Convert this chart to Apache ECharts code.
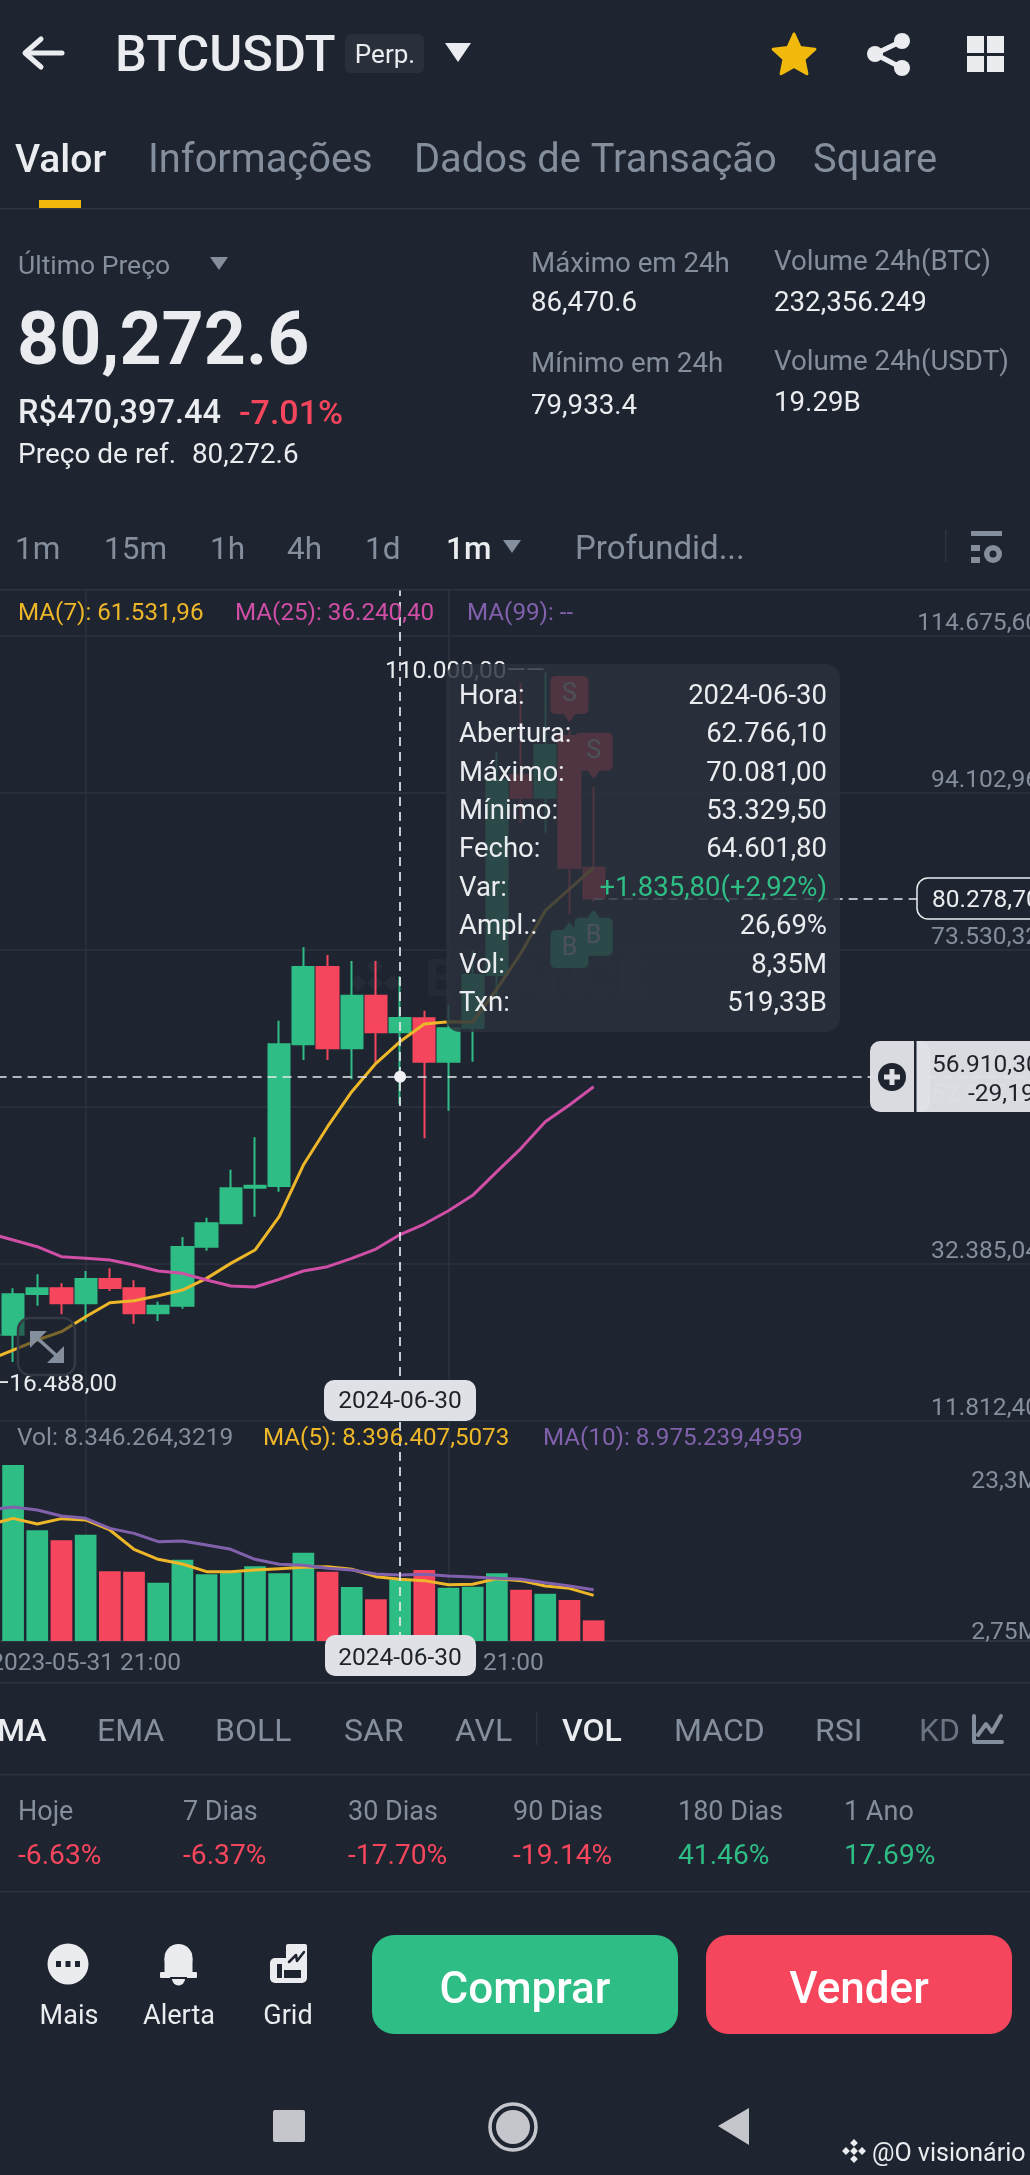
<!DOCTYPE html>
<html>
<head>
<meta charset="utf-8">
<title>BTCUSDT</title>
<style>
  html, body { margin: 0; padding: 0; background: #1e2530; }
  #chart { width: 1030px; height: 2175px; }
</style>
</head>
<body>
<div id="chart"></div>
<script src="https://cdn.jsdelivr.net/npm/echarts@6/dist/echarts.min.js"></script>
<script>
// monthly candles, the first two sit off the left edge of the screen
const categories = [
  '2022-12-31 21:00', '2023-01-31 21:00', '2023-02-28 21:00', '2023-03-31 21:00', '2023-04-30 21:00',
  '2023-05-31 21:00', '2023-06-30 21:00', '2023-07-31 21:00', '2023-08-31 21:00', '2023-09-30 21:00',
  '2023-10-31 21:00', '2023-11-30 21:00', '2023-12-31 21:00', '2024-01-31 21:00', '2024-02-29 21:00',
  '2024-03-31 21:00', '2024-04-30 21:00', '2024-05-31 21:00', '2024-06-30 21:00', '2024-07-31 21:00',
  '2024-08-31 21:00', '2024-09-30 21:00', '2024-10-31 21:00', '2024-11-30 21:00', '2024-12-31 21:00',
  '2025-01-31 21:00', '2025-02-28 21:00', '2025-03-31 21:00', '2025-04-30 21:00', '2025-05-31 21:00',
  '2025-06-30 21:00', '2025-07-31 21:00', '2025-08-31 21:00', '2025-09-30 21:00', '2025-10-31 21:00',
  '2025-11-30 21:00', '2025-12-31 21:00', '2026-01-31 21:00', '2026-02-28 21:00', '2026-03-31 21:00',
  '2026-04-30 21:00', '2026-05-31 21:00', '2026-06-30 21:00', '2026-07-31 21:00', '2026-08-31 21:00'
]
const openPrices = [16540, 23120, 23121, 28450, 29192, 27226, 30416, 29192, 25916, 26920, 34652, 37709, 42383, 42602,
  61165, 71299, 60641, 67543, 62766.1, 64573, 58894, 63308, 70252, 96458, 93485, 101568, 84311]
const closePrices = [23120, 23121, 28406, 29192, 27226, 30416, 29236, 25916, 26920, 34608, 37709, 42296, 42645, 61165,
  71299, 60641, 67543, 62738, 64601.8, 58894, 63262, 70252, 95803, 93485, 100389, 84311, 80278.7]
const lowPrices = [16488, 21350, 19539, 26920, 25785, 24824, 28842, 24562, 24911, 26528, 34128, 37578, 38583, 41859,
  59113, 59113, 56579, 58676, 53329.5, 48848, 52473, 58894, 67238, 90168, 88896, 78244, 79863]
const highPrices = [23800, 25300, 29192, 31026, 29847, 31463, 31812, 30240, 27445, 35919, 38452, 44742, 48979, 64267,
  73876, 72872, 72085, 72085, 70081, 65577, 66320, 73527, 99511, 108512, 110000, 102354, 94925]
const ma7 = [null, 19801, 21111, 22421, 23513, 25479, 27314, 27576, 28231, 28974, 30503, 32468, 34215, 38583, 45353,
  50376, 54963, 58676, 61531.96, 63830, 64136, 64094, 68418, 73134, 78676, 81520, 84311]
const ma25 = [null, 36399, 35526, 34652, 33342, 33123, 32905, 32250, 31463, 31157, 30284, 29498, 29367, 30375, 31463,
  32031, 33123, 34346, 36240.4, 37622, 39369, 41379, 44480, 47538, 51032, 53216, 55618]
const volumes = [15.2, 12.4, 23.94, 15.05, 13.69, 14.46, 9.47, 9.43, 7.93, 11.06, 9.07, 9.3, 10.16, 9.21, 12.01, 9.43,
  7.34, 5.67, 8.346, 9.66, 7.25, 7.38, 9.21, 6.98, 6.43, 5.58, 2.81]
const volMa5 = [null, 15.78, 16.68, 15.91, 16.64, 16.46, 15.1, 12.47, 11.11, 10.47, 9.43, 9.43, 9.66, 9.84, 10.02,
  10.11, 9.75, 8.75, 8.396, 8.21, 7.66, 7.71, 8.48, 8.21, 7.48, 7.16, 6.21]
const volMa10 = [null, 17.82, 18.22, 17.82, 17.0, 16.68, 15.32, 14.64, 13.51, 13.6, 13.06, 12.47, 11.11, 10.43, 10.29,
  9.88, 9.66, 9.11, 8.975, 9.07, 8.84, 8.7, 8.52, 8.39, 7.93, 7.48, 6.98]

const priceTicks = [114675.6, 94102.96, 73530.32, 52957.68, 32385.04, 11812.4]
const priceTickLabels = ['114.675,60', '94.102,96', '73.530,32', '52.957,68', '32.385,04', '11.812,40']
const volTicks = [23.3, 2.75]
const volTickLabels = ['23,3M', '2,75M']
const dateTickLabels = ['2023-05-31 21:00', '2024-08-31 21:00']

const tooltipLabels = ['Hora:', 'Abertura:', 'Máximo:', 'Mínimo:', 'Fecho:', 'Var:', 'Ampl.:', 'Vol:', 'Txn:']
const tooltipValues = ['2024-06-30', '62.766,10', '70.081,00', '53.329,50', '64.601,80', '+1.835,80(+2,92%)', '26,69%', '8,35M', '519,33B']
const tabs = ['Valor', 'Informações', 'Dados de Transação', 'Square']
const intervals = ['1m', '15m', '1h', '4h', '1d', '1m', 'Profundid...']
const indicators = ['MA', 'EMA', 'BOLL', 'SAR', 'AVL', 'VOL', 'MACD', 'RSI', 'KD']
const statLabels = ['Hoje', '7 Dias', '30 Dias', '90 Dias', '180 Dias', '1 Ano']
const statValues = ['-6.63%', '-6.37%', '-17.70%', '-19.14%', '41.46%', '17.69%']

const crossDate = '2024-06-30 21:00'
const crossPrice = 56910.3
const lastPrice = 80278.7
const lastCategory = categories[openPrices.length - 1]
const prevCategory = categories[openPrices.length - 2]

const FONT = 'Roboto, sans-serif'
const bg = '#1e2530'
const green = '#2ebd85'
const red = '#f6465d'
const yellow = '#eeb729'
const pink = '#cf4ea6'
const purple = '#8261ac'
const gray = '#848e9c'
const white = '#eaecef'
const line = '#2d333f'
const boxColor = '#dfe1e6'
const dash = [9, 6]

const myChart = echarts.init(document.querySelector('#chart'))

function txt(x, y, text, size, fill, opts) {
  const o = opts || {}
  return {
    type: 'text', x, y: y + 2, z: o.z || 100,
    style: {
      text, fill, font: (o.weight || 'normal') + ' ' + size + 'px ' + FONT,
      align: o.align || 'left', verticalAlign: 'middle', opacity: o.opacity == null ? 1 : o.opacity
    }
  }
}
function rect(x, y, width, height, fill, r, z, extra) {
  return { type: 'rect', z: z || 100, shape: { x, y, width, height, r: r || 0 }, style: Object.assign({ fill }, extra) }
}
function poly(points, fill, z) {
  return { type: 'polygon', z: z || 100, shape: { points }, style: { fill } }
}
function stroke(points, color, width, z) {
  return { type: 'polyline', z: z || 100, shape: { points }, style: { stroke: color, fill: 'none', lineWidth: width, lineJoin: 'round', lineCap: 'round' } }
}
function circle(cx, cy, r, fill, z, extra) {
  return { type: 'circle', z: z || 100, shape: { cx, cy, r }, style: Object.assign({ fill }, extra) }
}
function hline(y) {
  return rect(0, y, 1030, 1.5, line)
}
function diamond(cx, cy, r, fill, z) {
  return poly([[cx, cy - r], [cx + r, cy], [cx, cy + r], [cx - r, cy]], fill, z)
}
function logo(cx, cy, s, fill, z) {
  return [[0, -0.62], [-0.62, 0], [0, 0], [0.62, 0], [0, 0.62]].map(p => diamond(cx + p[0] * s, cy + p[1] * s, s * 0.3, fill, z))
}
function starPoints(cx, cy, R, r) {
  const pts = []
  for (let i = 0; i < 10; i++) {
    const a = -Math.PI / 2 + i * Math.PI / 5
    const d = i % 2 ? r : R
    pts.push([cx + d * Math.cos(a), cy + d * Math.sin(a)])
  }
  return pts
}

const tabX = [15, 148, 414, 813]
const intervalX = [15, 104, 210, 287, 365, 446, 575]
const indicatorX = [-3, 97, 215, 344, 455, 562, 674, 815, 919]
const statX = [18, 183, 348, 513, 678, 844]
const star = starPoints(794, 56, 22, 10.5)

const chrome = [
  // header
  stroke([[62, 53], [26, 53]], white, 5),
  stroke([[41, 39], [25, 53], [41, 67]], white, 5),
  txt(115, 56, 'BTCUSDT', 50.5, white, { weight: 500 }),
  rect(345, 34, 79, 39, '#2a303b', 6),
  txt(385, 54, 'Perp.', 26, white, { align: 'center' }),
  poly([[445, 43], [471, 43], [458, 62]], white),
  poly(star, '#f0b90b'),
  stroke(star.concat([star[0]]), '#f0b90b', 3),
  stroke([[902, 41], [875, 54], [902, 68]], white, 5),
  circle(902, 41, 8, white), circle(875, 54, 8, white), circle(902, 68, 8, white),
  rect(967, 36, 17, 17, white), rect(987, 36, 17, 17, white), rect(967, 56, 17, 16, white), rect(987, 56, 17, 16, white),
  // tabs
  ...tabs.map((t, i) => txt(tabX[i], 160, t, i === 0 ? 39 : 39.8, i === 0 ? white : gray, { weight: i === 0 ? 500 : 'normal' })),
  rect(39, 200, 42, 8, '#f0b90b'),
  hline(208),
  // price block
  txt(18, 265, 'Último Preço', 26.5, gray),
  poly([[210, 257], [228, 257], [219, 270]], gray),
  txt(17, 344, '80,272.6', 73.5, white, { weight: 700 }),
  txt(18, 413, 'R$470,397.44', 32.5, white, { weight: 500 }),
  txt(239, 413, '-7.01%', 34, red, { weight: 500 }),
  txt(18, 454, 'Preço de ref.', 28, white),
  txt(192, 454, '80,272.6', 27.8, white),
  txt(531, 263, 'Máximo em 24h', 27.7, gray),
  txt(531, 302, '86,470.6', 27.7, white),
  txt(531, 363, 'Mínimo em 24h', 27.7, gray),
  txt(531, 405, '79,933.4', 27.7, white),
  txt(774, 261, 'Volume 24h(BTC)', 27.7, gray),
  txt(774, 302, '232,356.249', 27.7, white),
  txt(774, 361, 'Volume 24h(USDT)', 27.7, gray),
  txt(774, 402, '19.29B', 27.7, white),
  // interval row
  ...intervals.map((t, i) => txt(intervalX[i], 549, t, i === 6 ? 33 : 31.5, i === 5 ? white : gray, { weight: i === 5 ? 500 : 'normal' })),
  poly([[503, 540], [521, 540], [512, 553]], gray),
  rect(945, 530, 1.5, 32, line),
  rect(971, 531, 31, 5, gray), rect(971, 545, 9, 6, gray), rect(971, 557, 9, 6, gray),
  circle(993, 554, 9, gray), circle(993, 554, 3.5, bg),
  hline(589),
  // legends
  txt(18, 612, 'MA(7): 61.531,96', 24.2, yellow),
  txt(235, 612, 'MA(25): 36.240,40', 24.2, pink),
  txt(467, 612, 'MA(99): --', 24.2, purple),
  txt(17, 1437, 'Vol: 8.346.264,3219', 24.5, gray),
  txt(263, 1437, 'MA(5): 8.396.407,5073', 24.2, yellow),
  txt(543, 1437, 'MA(10): 8.975.239,4959', 24.2, purple),
  // watermark
  ...logo(375, 983, 27, '#262c37', 1),
  txt(425, 981, 'BINANCE', 52, '#252b36', { weight: 700, z: 1 }),
  // expand button
  rect(18, 1318, 57, 57, 'rgba(30,37,48,0.55)', 12, 20, { stroke: '#333a46', lineWidth: 2.5 }),
  poly([[30, 1331], [47, 1331], [30, 1348]], gray, 21),
  poly([[64, 1363], [47, 1363], [64, 1346]], gray, 21),
  stroke([[36, 1337], [58, 1357]], gray, 3.5, 21),
  // tooltip
  rect(446, 664, 394, 368, 'rgba(43,49,60,0.83)', 14, 50),
  ...tooltipLabels.map((t, i) => txt(459, 695 + i * 38.4, t, 27.5, white, { z: 51 })),
  ...tooltipValues.map((t, i) => txt(827, 695 + i * 38.4, t, 27.5, i === 5 ? green : white, { z: 51, align: 'right' })),
  // last price tag
  rect(917, 878, 150, 41, bg, 11, 60, { stroke: white, lineWidth: 1.5 }),
  txt(932, 899, '80.278,70', 24.5, white, { z: 61 }),
  // crosshair tag
  rect(870, 1041, 60, 71, boxColor, 10, 60, { opacity: 0.97 }),
  rect(914, 1041, 2.5, 71, bg, 0, 61),
  rect(917, 1041, 130, 71, boxColor, 0, 60, { opacity: 0.97 }),
  circle(892, 1077, 14, '#1e2530', 61),
  rect(884, 1074.5, 16, 5, boxColor, 0, 62),
  rect(889.5, 1069, 5, 16, boxColor, 0, 62),
  txt(932, 1064, '56.910,30', 24.5, '#1e2329', { z: 62 }),
  txt(968, 1093, '-29,19%', 24.5, '#1e2329', { z: 62 }),
  // date tags
  rect(324, 1380, 152, 41, boxColor, 10, 60),
  txt(400, 1400, '2024-06-30', 24.5, '#1e2329', { z: 61, align: 'center' }),
  rect(325, 1635, 151, 41, boxColor, 10, 60),
  txt(400, 1657, '2024-06-30', 24.5, '#1e2329', { z: 61, align: 'center' }),
  hline(1682),
  // indicator row
  ...indicators.map((t, i) => txt(indicatorX[i], 1731, t, 32, (i === 0 || i === 5) ? white : gray, {
    weight: (i === 0 || i === 5) ? 500 : 'normal', opacity: i === 8 ? 0.75 : 1 })),
  rect(536, 1712, 1.5, 33, line),
  rect(966, 1710, 42, 40, bg, 0, 101),
  stroke([[974, 1716], [974, 1742], [1002, 1742]], gray, 4, 102),
  stroke([[978, 1735], [986, 1724], [992, 1732], [1001, 1716]], gray, 4, 102),
  hline(1774),
  // performance row
  ...statLabels.map((t, i) => txt(statX[i], 1811, t, 27, gray)),
  ...statValues.map((t, i) => txt(statX[i], 1855, t, 28.2, t[0] === '-' ? red : green)),
  hline(1891),
  // bottom actions
  circle(68, 1964, 20.5, white),
  rect(56, 1961, 5, 6, bg), rect(65.5, 1961, 5, 6, bg), rect(75, 1961, 5, 6, bg),
  circle(178.5, 1958, 14, white),
  rect(164.5, 1958, 28, 17, white),
  rect(160, 1973, 37, 5, white, 1),
  circle(178.5, 1979, 6.5, white),
  rect(170, 1973, 17, 6, bg),
  rect(160, 1972, 37, 5, white, 1),
  rect(270, 1958, 37, 25, white, 5), rect(286, 1944, 21, 20, white, 2),
  stroke([[289, 1962], [296, 1955], [297, 1961], [304, 1952]], bg, 2.5),
  rect(277, 1964, 5, 14, bg), rect(284, 1970, 17, 8, bg),
  txt(69, 2015, 'Mais', 27, white, { align: 'center' }),
  txt(179, 2015, 'Alerta', 27, white, { align: 'center' }),
  txt(288, 2015, 'Grid', 27, white, { align: 'center' }),
  rect(372, 1935, 306, 99, green, 22),
  rect(706, 1935, 306, 99, red, 22),
  txt(525, 1990, 'Comprar', 44, '#fff', { align: 'center', weight: 500 }),
  txt(859, 1990, 'Vender', 44, '#fff', { align: 'center', weight: 500 }),
  // android nav
  rect(273, 2110, 32, 32, '#c4c6cb', 2),
  circle(513, 2127, 23, 'none', 100, { stroke: '#c4c6cb', lineWidth: 3.5 }),
  circle(513, 2127, 17, '#c4c6cb'),
  poly([[749, 2108], [749, 2145], [718, 2126]], '#c4c6cb'),
  ...logo(854, 2151, 13, white),
  txt(872, 2153, '@O visionário', 25, white)
]

const signalSymbol = 'path://M6 0H32C36 0 38 2 38 6V32C38 36 36 38 32 38H25L19 46L13 38H6C2 38 0 36 0 32V6C0 2 2 0 6 0Z'
const signalSymbolUp = 'path://M6 46H32C36 46 38 44 38 40V14C38 10 36 8 32 8H25L19 0L13 8H6C2 8 0 10 0 14V40C0 44 2 46 6 46Z'
const signal = (letter, cat, value, up) => ({
  coord: [cat, value],
  symbol: up ? signalSymbolUp : signalSymbol,
  symbolSize: [38, 46],
  symbolOffset: [0, up ? 31 : -31],
  itemStyle: { color: up ? green : red },
  label: { show: true, formatter: letter, position: 'inside', offset: [0, up ? 4 : -4], color: '#e8eaee', fontSize: 25, fontFamily: FONT }
})
const extreme = (text, cat, value, position, distance) => ({
  coord: [cat, value],
  symbol: 'circle',
  symbolSize: 1,
  itemStyle: { color: 'rgba(0,0,0,0)' },
  label: { show: true, formatter: text, position, distance, color: white, fontSize: 24.5, fontFamily: FONT }
})
const dashed = { color: '#e6e8ec', width: 1.7, type: dash }
const isDateTick = (idx, v) => dateTickLabels.includes(v)

const option = {
  backgroundColor: bg,
  animation: false,
  graphic: { elements: chrome },
  grid: [
    { left: -47.4, top: 590, width: 1088.55, height: 831, outerBoundsMode: 'none' },
    { left: -47.4, top: 1421, width: 1088.55, height: 220, outerBoundsMode: 'none' }
  ],
  xAxis: [0, 1].map(i => ({
    type: 'category',
    gridIndex: i,
    data: categories,
    axisLine: { show: i === 1, lineStyle: { color: line, width: 2 } },
    axisTick: { show: false, alignWithLabel: true, interval: isDateTick },
    splitLine: { show: true, alignWithLabel: true, interval: isDateTick, lineStyle: { color: line, width: 1.5 } },
    axisLabel: {
      show: i === 1, interval: isDateTick, hideOverlap: false,
      color: gray, fontSize: 24.5, fontFamily: FONT, margin: 10
    }
  })),
  yAxis: [
    {
      type: 'value', gridIndex: 0, position: 'right', min: 11812.4, max: 120698.3,
      axisLine: { show: false },
      axisTick: { show: false, customValues: priceTicks },
      splitLine: { show: true, lineStyle: { color: line, width: 1.5 } },
      axisLabel: {
        inside: true, margin: 2, customValues: priceTicks, verticalAlign: 'bottom', color: gray, fontSize: 24.6, fontFamily: FONT,
        formatter: v => priceTickLabels[priceTicks.indexOf(v)]
      }
    },
    {
      type: 'value', gridIndex: 1, position: 'right', min: 0, max: 29.92,
      axisLine: { show: false },
      axisTick: { show: false, customValues: volTicks },
      splitLine: { show: false },
      axisLabel: {
        inside: true, margin: 2, customValues: volTicks, verticalAlign: 'top', color: gray, fontSize: 24.6, fontFamily: FONT,
        formatter: v => volTickLabels[volTicks.indexOf(v)]
      }
    }
  ],
  series: [
    {
      name: 'BTCUSDT',
      type: 'candlestick',
      barWidth: 21.7,
      itemStyle: { color: green, color0: red, borderColor: green, borderColor0: red, borderWidth: 2 },
      data: openPrices.map((o, i) => [o, closePrices[i], lowPrices[i], highPrices[i]]),
      markLine: {
        silent: true, symbol: 'none', label: { show: false }, animation: false, precision: 4,
        lineStyle: dashed,
        data: [
          { xAxis: crossDate },
          { yAxis: crossPrice },
          [{ coord: [lastCategory, lastPrice] }, { coord: [categories[categories.length - 1], lastPrice] }]
        ]
      },
      markPoint: {
        silent: true, animation: false,
        data: [
          extreme('—16.488,00', categories[0], lowPrices[0], 'right', 25),
          extreme('110.000,00——', categories[24], highPrices[24], 'left', 0),
          signal('S', prevCategory, highPrices[25], false),
          signal('S', lastCategory, highPrices[26], false),
          signal('B', prevCategory, lowPrices[25], true),
          signal('B', lastCategory, lowPrices[26], true),
          {
            coord: [crossDate, crossPrice], symbol: 'circle', symbolSize: 12,
            itemStyle: { color: '#f0f1f4' }, label: { show: false }
          }
        ]
      }
    },
    { name: 'MA7', type: 'line', data: ma7, showSymbol: false, lineStyle: { color: yellow, width: 3 }, z: 3 },
    { name: 'MA25', type: 'line', data: ma25, showSymbol: false, lineStyle: { color: pink, width: 3 }, z: 3 },
    {
      name: 'Vol',
      type: 'bar',
      xAxisIndex: 1,
      yAxisIndex: 1,
      barWidth: 21.7,
      data: volumes.map((v, i) => ({ value: v, itemStyle: { color: closePrices[i] >= openPrices[i] ? green : red } })),
      markLine: {
        silent: true, symbol: 'none', label: { show: false }, animation: false,
        lineStyle: dashed,
        data: [{ xAxis: crossDate }]
      }
    },
    { name: 'VolMA5', type: 'line', xAxisIndex: 1, yAxisIndex: 1, data: volMa5, showSymbol: false, lineStyle: { color: yellow, width: 3 }, z: 3 },
    { name: 'VolMA10', type: 'line', xAxisIndex: 1, yAxisIndex: 1, data: volMa10, showSymbol: false, lineStyle: { color: purple, width: 3 }, z: 3 }
  ]
}

myChart.setOption(option)
</script>
</body>
</html>
